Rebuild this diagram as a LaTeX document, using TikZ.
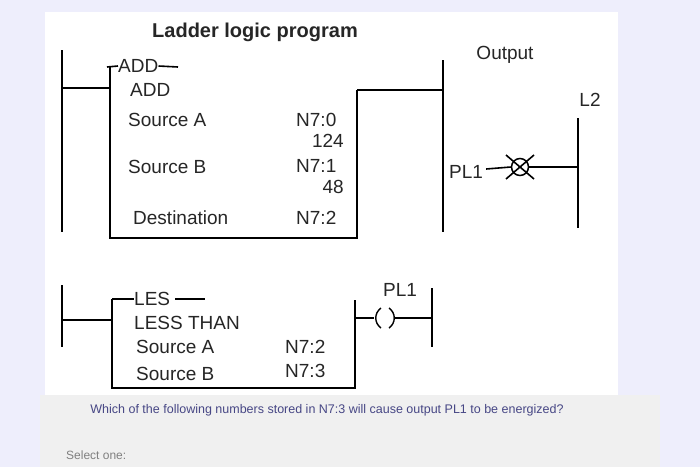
\documentclass[tikz,border=0pt]{standalone}
\usepackage{fontspec}
\setmainfont{Liberation Sans}
\begin{document}
\begin{tikzpicture}[x=1pt,y=-1pt,
  wire/.style={line width=1.6pt,black},
  lbl/.style={font=\fontsize{19}{21}\selectfont,inner sep=0pt,text=black!85}]
\useasboundingbox (0,0) rectangle (700,467);
\fill[gray!30!blue!8] (0,0) rectangle (700,467);
\fill[white] (45,12) rectangle (618,395);
\fill[gray!12] (40,395) rectangle (660,467);
\node[lbl,font=\bfseries\fontsize{20}{22}\selectfont] (title) at (255,32) {Ladder logic program};
\node[lbl] (out) at (505,55) {Output};
% rung 1
\draw[wire] (62,50) -- (62,232);
\draw[wire] (62,88) -- (110,88);
\node[lbl,anchor=west] (add1) at (118,66) {ADD};
\draw[wire] (107,67) -- (add1.west);
\draw[wire] (add1.east) -- (178,67);
\draw[wire] (110,67) -- (110,238) -- (357,238) -- (357,90);
\draw[wire] (357,90) -- (443,90);
\draw[wire] (443,60) -- (443,232);
\node[lbl,anchor=west] (add2) at (130,90) {ADD};
\node[lbl,anchor=west] (sa) at (128,120) {Source A};
\node[lbl,anchor=west] (n70) at (296,120) {N7:0};
\node[lbl,anchor=east] (v124) at (344,141) {124};
\node[lbl,anchor=west] (sb) at (128,167) {Source B};
\node[lbl,anchor=west] (n71) at (296,166) {N7:1};
\node[lbl,anchor=east] (v48) at (344,187) {48};
\node[lbl,anchor=west] (dst) at (133,218) {Destination};
\node[lbl,anchor=west] (n72) at (296,218) {N7:2};
% output
\node[lbl] (pl1a) at (466,172) {PL1};
\node[lbl] (l2) at (590,100) {L2};
\node[circle,draw,line width=1.5pt,minimum size=17pt,inner sep=0] (lamp) at (520,167) {};
\draw[wire] (pl1a.east)++(3,-3) -- (lamp.west);
\draw[wire] (lamp.east) -- (578,167);
\draw[wire] (578,118) -- (578,228);
\draw[wire] (lamp.center)++(-14,-12) -- ++(28,24);
\draw[wire] (lamp.center)++(-14,12) -- ++(28,-24);
% rung 2
\draw[wire] (62,285) -- (62,347);
\draw[wire] (62,320) -- (112,320);
\node[lbl,anchor=west] (les) at (134,299) {LES};
\draw[wire] (112,299) -- (les.west);
\draw[wire] (les.east)++(5,0) -- (205,299);
\draw[wire] (112,299) -- (112,388) -- (355,388) -- (355,300);
\draw[wire] (355,318) -- (374,318);
\draw[line width=1.4pt] (381,308) .. controls (374,313) and (374,323) .. (381,328);
\draw[line width=1.4pt] (389,308) .. controls (396,313) and (396,323) .. (389,328);
\draw[wire] (395,318) -- (432,318);
\draw[wire] (432,288) -- (432,347);
\node[lbl] (pl1b) at (400,290) {PL1};
\node[lbl,anchor=west] (lt) at (134,323) {LESS THAN};
\node[lbl,anchor=west] (sa2) at (136,347) {Source A};
\node[lbl,anchor=west] (n72b) at (285,347) {N7:2};
\node[lbl,anchor=west] (sb2) at (136,374) {Source B};
\node[lbl,anchor=west] (n73) at (285,371) {N7:3};
\node[font=\fontsize{12.5}{14}\selectfont,text=blue!30!gray!80!black,inner sep=0] (q) at (327,410) {Which of the following numbers stored in N7:3 will cause output PL1 to be energized?};
\node[font=\fontsize{12}{14}\selectfont,text=gray,anchor=west,inner sep=0] (sel) at (66,455) {Select one:};
\end{tikzpicture}
\end{document}
